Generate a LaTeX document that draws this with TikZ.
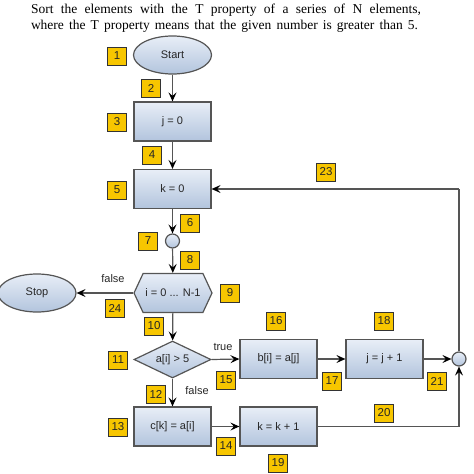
\documentclass[tikz,border=0pt]{standalone}
\usepackage{fontspec}
\setmainfont{Liberation Serif}
\newfontfamily\boxfont{Liberation Sans}
\usetikzlibrary{arrows.meta,shapes.geometric,shapes.symbols}
\definecolor{shadeA}{HTML}{E8EEF7}
\definecolor{shadeB}{HTML}{B2C4DD}
\definecolor{edgec}{HTML}{555555}
\definecolor{tagc}{HTML}{F7C600}
\begin{document}
\begin{tikzpicture}[x=1pt,y=-1pt,
  blk/.style={draw=edgec, line width=1.2pt, top color=shadeA, bottom color=shadeB, font=\boxfont\fontsize{11}{13}\selectfont, text=black!85, inner sep=0pt},
  proc/.style={blk, rectangle, minimum width=77pt, minimum height=39pt},
  term/.style={blk, ellipse, minimum width=78pt, minimum height=38pt},
  dec/.style={blk, diamond, aspect=2, minimum width=77pt, minimum height=37pt},
  loopnode/.style={blk, signal, signal to=east and west, signal pointer angle=130, minimum width=78pt, minimum height=39pt},
  junc/.style={blk, circle, minimum size=14pt},
  tagbox/.style={draw=black!80, line width=0.9pt, fill=tagc, minimum width=19pt, minimum height=18pt, inner sep=0pt, font=\boxfont\fontsize{11.5}{13}\selectfont, text=black!85},
  conn/.style={draw=edgec, line width=1.2pt, -{Stealth[length=9pt,width=8pt,inset=3.5pt,color=black]}},
  plain/.style={draw=edgec, line width=1.2pt},
  elabel/.style={font=\boxfont\fontsize{11}{13}\selectfont, text=black!85, inner sep=0pt}
]
\useasboundingbox (0,0) rectangle (474,474);

% title
\node[font=\fontsize{13.5}{15}\selectfont, inner sep=0pt] (t1) at (226,10) {\makebox[390pt][s]{Sort the elements with the T property of a series of N elements,}};
\node[font=\fontsize{13.5}{15}\selectfont, inner sep=0pt] (t2) at (224.5,26) {\makebox[387pt][s]{where the T property means that the given number is greater than 5.}};

% shapes
\node[term] (start) at (172.5,55) {Start};
\node[proc] (j0) at (172.5,121.5) {j = 0};
\node[proc] (k0) at (172.5,189) {k = 0};
\node[junc] (c7) at (172.5,241) {};
\node[loopnode] (hex) at (173,293) {i = 0 ... N-1};
\node[term] (stop) at (37,293) {Stop};
\node[dec] (dia) at (172.5,359.5) {a[i] > 5};
\node[proc] (ck) at (172.5,426.5) {c[k] = a[i]};
\node[proc] (bi) at (278.5,359) {b[i] = a[j]};
\node[proc] (jj) at (384.5,359) {j = j + 1};
\node[junc] (jn) at (459,359) {};
\node[proc] (kk) at (278.5,426.5) {k = k + 1};
\coordinate (c20) at (459,426.5);
\coordinate (c23) at (459,189);

% connectors
\draw[conn] (start) -- (j0);
\draw[conn] (j0) -- (k0);
\draw[conn] (k0) -- (c7);
\draw[conn] (c7) -- (hex);
\draw[conn] (hex.west) -- (stop.east);
\draw[conn] (hex) -- (dia);
\draw[conn] (dia.east) -- (bi.west);
\draw[conn] (dia) -- (ck);
\draw[conn] (ck) -- (kk);
\draw[conn] (bi) -- (jj);
\draw[conn] (jj) -- (jn);
\draw[plain] (kk.east) -- (c20);
\draw[conn] (c20) -- (jn.south);
\draw[plain] (jn.north) -- (c23);
\draw[conn] (c23) -- (k0.east);

% edge labels
\node[elabel] (lf1) at (113,279) {false};
\node[elabel] (ltr) at (223,347) {true};
\node[elabel] (lf2) at (197,391) {false};

% tags
\node[tagbox] (g1) at (117,56) {1};
\node[tagbox] (g2) at (151,88) {2};
\node[tagbox] (g3) at (117,122) {3};
\node[tagbox] (g4) at (152,155) {4};
\node[tagbox] (g5) at (117,190) {5};
\node[tagbox] (g6) at (190,223) {6};
\node[tagbox] (g7) at (148,241) {7};
\node[tagbox] (g8) at (190,260) {8};
\node[tagbox] (g9) at (230,293) {9};
\node[tagbox] (g10) at (154,326) {10};
\node[tagbox] (g11) at (118,360) {11};
\node[tagbox] (g12) at (156,394) {12};
\node[tagbox] (g13) at (118,427) {13};
\node[tagbox] (g14) at (226,446) {14};
\node[tagbox] (g15) at (226,380) {15};
\node[tagbox] (g16) at (276,321) {16};
\node[tagbox] (g17) at (332,381) {17};
\node[tagbox] (g18) at (384,321) {18};
\node[tagbox] (g19) at (278,463) {19};
\node[tagbox] (g20) at (384,413) {20};
\node[tagbox] (g21) at (437,381) {21};
\node[tagbox] (g23) at (326,172) {23};
\node[tagbox] (g24) at (115,308) {24};
\end{tikzpicture}
\end{document}
